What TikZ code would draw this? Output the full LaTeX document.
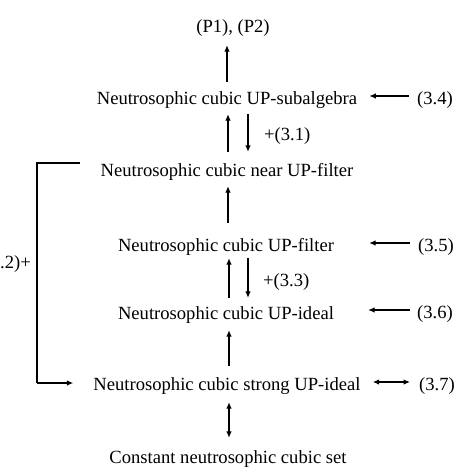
\documentclass[tikz,border=0pt]{standalone}
\usepackage{fontspec}
\setmainfont{Liberation Serif}
\usetikzlibrary{arrows.meta}
\begin{document}
\begin{tikzpicture}[x=1pt,y=-1pt,
  lbl/.style={inner sep=0pt,anchor=base,text height=13pt,text depth=4pt,font=\fontsize{18.6}{22}\selectfont},
  arr/.style={line width=1.1pt,-{Latex[length=6.5pt,width=5.5pt]}},
  darr/.style={line width=1.1pt,{Latex[length=6.5pt,width=5.5pt]}-{Latex[length=6.5pt,width=5.5pt]}},
  ln/.style={line width=1.1pt}]
\useasboundingbox (0,0) rectangle (474,474);
\node[lbl] (P) at (233,32) {(P1), (P2)};
\node[lbl] (sub) at (227,104) {Neutrosophic cubic UP-subalgebra};
\node[lbl] (near) at (227,176) {Neutrosophic cubic near UP-filter};
\node[lbl] (fil) at (226,251) {Neutrosophic cubic UP-filter};
\node[lbl] (ide) at (226,319) {Neutrosophic cubic UP-ideal};
\node[lbl] (str) at (227,390) {Neutrosophic cubic strong UP-ideal};
\node[lbl] (con) at (228,463) {Constant neutrosophic cubic set};
\node[lbl,anchor=base west] (l34) at (417,104) {(3.4)};
\node[lbl,anchor=base west] (l35) at (418,251) {(3.5)};
\node[lbl,anchor=base west] (l36) at (417,318) {(3.6)};
\node[lbl,anchor=base west] (l37) at (419,390) {(3.7)};
\node[lbl,anchor=base west] (l31) at (264,140) {+(3.1)};
\node[lbl,anchor=base west] (l33) at (263,286) {+(3.3)};
\node[lbl,anchor=base east] (l32) at (31,268) {(3.2)+};
% vertical arrows
\draw[arr,shorten <=9pt,shorten >=9pt] (sub.north -| 227,0) -- (P.south -| 227,0);
\draw[arr,shorten <=11pt,shorten >=6pt] (near.north -| 228,0) -- (sub.south -| 228,0);
\draw[arr,shorten <=6pt,shorten >=11pt] (sub.south -| 248,0) -- (near.north -| 248,0);
\draw[arr,shorten <=15pt,shorten >=6pt] (fil.north -| 228,0) -- (near.south -| 228,0);
\draw[arr,shorten <=8pt,shorten >=3pt] (ide.north -| 229,0) -- (fil.south -| 229,0);
\draw[arr,shorten <=3pt,shorten >=8pt] (fil.south -| 248,0) -- (ide.north -| 248,0);
\draw[arr,shorten <=11pt,shorten >=7pt] (str.north -| 229,0) -- (ide.south -| 229,0);
\draw[darr,shorten <=8pt,shorten >=12pt] (str.south -| 229,0) -- (con.north -| 229,0);
% horizontal arrows
\draw[arr,shorten <=8pt,shorten >=12pt] (l34.west |- 0,96) -- (sub.east |- 0,96);
\draw[arr,shorten <=8pt,shorten >=35pt] (l35.west |- 0,243) -- (fil.east |- 0,243);
\draw[arr,shorten <=7pt,shorten >=34pt] (l36.west |- 0,310) -- (ide.east |- 0,310);
\draw[darr,shorten <=9pt,shorten >=12pt] (l37.west |- 0,382) -- (str.east |- 0,382);
% bracket
\draw[ln] (near.west |- 0,163) ++(-21,0) coordinate (bt) -- (37,163) -- (37,383);
\draw[arr] (37,383) -- ([xshift=-20pt]str.west |- 0,383);
\end{tikzpicture}
\end{document}
